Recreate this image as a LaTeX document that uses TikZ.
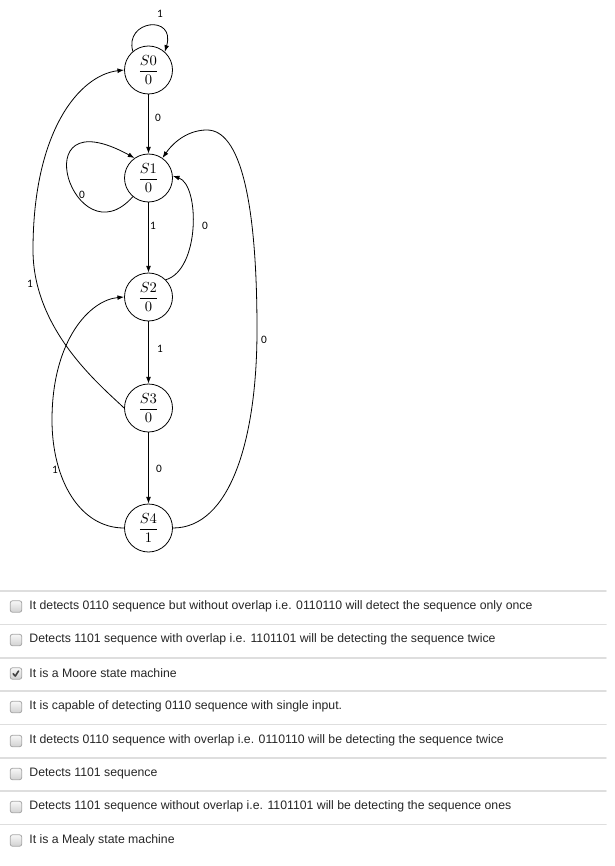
\documentclass[tikz,border=0pt]{standalone}
\usepackage{amsmath}
\usepackage[no-math]{fontspec}
\setmainfont{Liberation Sans}
\newfontfamily\lblfont{Carlito}
\usepackage{tikz}
\usetikzlibrary{arrows.meta,calc,positioning}
\tikzset{
  st/.style={circle, draw, minimum size=36pt, inner sep=0pt, font=\fontsize{10.5}{12}\selectfont},
  lbl/.style={inner sep=0pt, font=\lblfont\fontsize{8.5}{10}\selectfont},
  trans/.style={-{Latex[length=5pt,width=3.6pt]}},
  sep/.style={draw=black!13, line width=1.4pt},
  cbox/.style={draw=black!35, rounded corners=1.5pt, minimum size=8.5pt, inner sep=0pt,
    top color=black!3, bottom color=black!18},
  opt/.style={anchor=west, inner sep=0pt, text=black!85, font=\fontsize{9.2}{11}\selectfont},
  every picture/.style={line cap=round, line join=round}
}

\begin{document}
\begin{tikzpicture}[x=0.75pt, y=0.75pt, line width=0.6pt]
  \useasboundingbox (0,0) rectangle (614,-866);

  % states
  \node[st] (s0) at (148.5,-70) {$\dfrac{S0}{0}$};
  \node[st] (s1) at (148.5,-178) {$\dfrac{S1}{0}$};
  \node[st] (s2) at (148.5,-297) {$\dfrac{S2}{0}$};
  \node[st] (s3) at (148.5,-408) {$\dfrac{S3}{0}$};
  \node[st] (s4) at (148.5,-528) {$\dfrac{S4}{1}$};

  % straight transitions
  \draw[trans] (s0)--(s1);
  \draw[trans] (s1)--(s2);
  \draw[trans] (s2)--(s3);
  \draw[trans] (s3)--(s4);

  % loops and back edges
  \draw[trans] (s0.130) .. controls (124,-20) and (176,-14) .. (s0.48);
  \draw[trans] (s1.230) .. controls (75,-262) and (20,-95) .. (s1.125);
  \draw[trans] (s2.45) .. controls (200,-270) and (200,-185) .. (s1.5);
  \draw[trans] (s3.180) .. controls (100,-385) and (33,-330) .. (33,-250)
    .. controls (33,-130) and (80,-75) .. (s0.180);
  \draw[trans] (s4.180) .. controls (80,-528) and (52,-480) .. (52,-420)
    .. controls (52,-340) and (90,-300) .. (s2.180);
  \draw[trans] (s4.0) .. controls (230,-528) and (257,-440) .. (257,-330)
    .. controls (257,-200) and (240,-130) .. (207,-130)
    .. controls (190,-130) and (175,-140) .. (s1.55);

  % edge labels
  \node[lbl] (l00) at (160,-14) {1};
  \node[lbl] (l01) at (158,-118) {0};
  \node[lbl] (l11) at (82,-195) {0};
  \node[lbl] (l12) at (153,-226) {1};
  \node[lbl] (l21) at (205,-226) {0};
  \node[lbl] (l30) at (30,-284) {1};
  \node[lbl] (l23) at (160,-349) {1};
  \node[lbl] (l42) at (55,-470) {1};
  \node[lbl] (l34) at (159,-469) {0};
  \node[lbl] (l41) at (264,-340) {0};

  % answer options
  \draw[sep] (0,-591)--(606,-591);
  \node[cbox] (c1) at (16,-606.5) {};
  \node[opt] (o1) at (29,-606) {It detects 0110 sequence but without overlap i.e. 0110110 will detect the sequence only once};
  \draw[sep] (0,-624.5)--(606,-624.5);
  \node[cbox] (c2) at (16,-640) {};
  \node[opt] (o2) at (29,-639.5) {Detects 1101 sequence with overlap i.e. 1101101 will be detecting the sequence twice};
  \draw[sep] (0,-658)--(606,-658);
  \node[cbox] (c3) at (16,-673.5) {};
  \draw[black!75, line width=1.2pt] (13.2,-673.8)--(15.3,-676)--(18.6,-671);
  \node[opt] (o3) at (29,-673) {It is a Moore state machine};
  \draw[sep] (0,-691)--(606,-691);
  \node[cbox] (c4) at (16,-707) {};
  \node[opt] (o4) at (29,-706.5) {It is capable of detecting 0110 sequence with single input.};
  \draw[sep] (0,-724.5)--(606,-724.5);
  \node[cbox] (c5) at (16,-741) {};
  \node[opt] (o5) at (29,-740.5) {It detects 0110 sequence with overlap i.e. 0110110 will be detecting the sequence twice};
  \draw[sep] (0,-758)--(606,-758);
  \node[cbox] (c6) at (16,-774) {};
  \node[opt] (o6) at (29,-773.5) {Detects 1101 sequence};
  \draw[sep] (0,-791)--(606,-791);
  \node[cbox] (c7) at (16,-807) {};
  \node[opt] (o7) at (29,-806.5) {Detects 1101 sequence without overlap i.e. 1101101 will be detecting the sequence ones};
  \draw[sep] (0,-824.5)--(606,-824.5);
  \node[cbox] (c8) at (16,-840.5) {};
  \node[opt] (o8) at (29,-840) {It is a Mealy state machine};
\end{tikzpicture}
\end{document}
